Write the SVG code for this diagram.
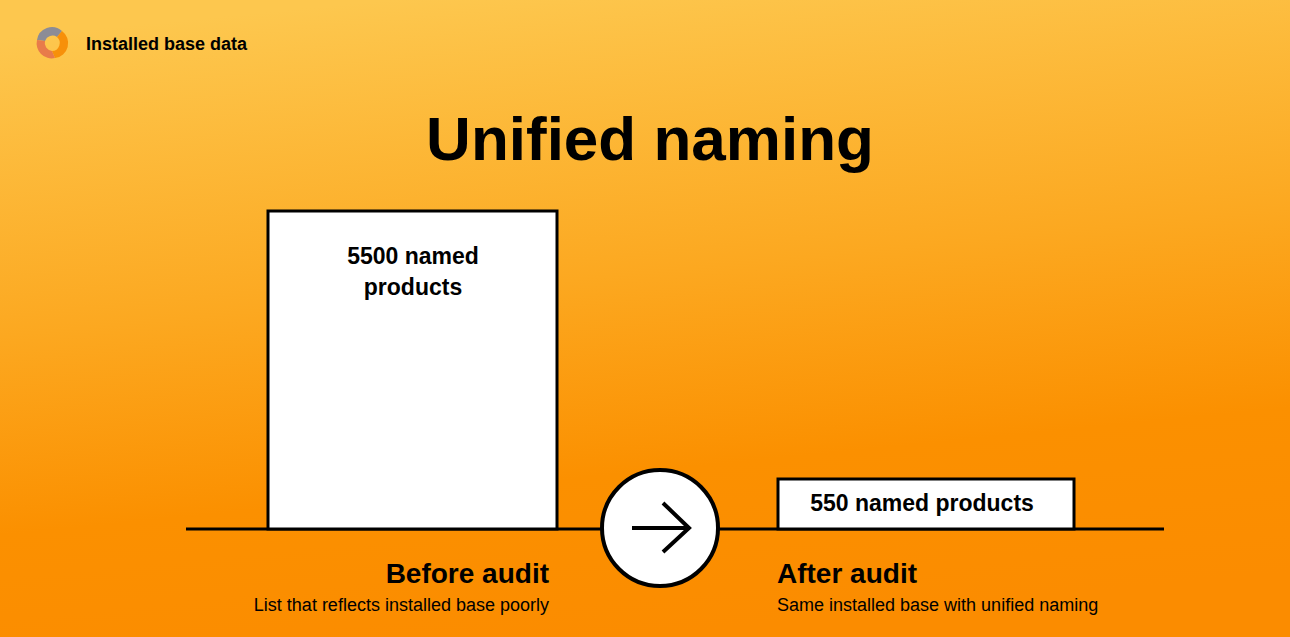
<svg xmlns="http://www.w3.org/2000/svg" width="1290" height="637" viewBox="0 0 1290 637">
<defs>
<linearGradient id="bg" x1="0.3" y1="0" x2="0.5" y2="1">
<stop offset="0" stop-color="#fdc74e"/>
<stop offset="0.45" stop-color="#fca820"/>
<stop offset="0.75" stop-color="#fb9000"/>
<stop offset="1" stop-color="#fb8c00"/>
</linearGradient>
<style>
text{font-family:"Liberation Sans",Arial,sans-serif;fill:#000}
.b{font-weight:bold}
.box{fill:#fff;stroke:#000;stroke-width:3}
</style>
</defs>
<rect width="1290" height="637" fill="url(#bg)"/>
<g id="logo">
<path d="M37 40 A15 15 0 0 1 62 31 L57 37 A8 8 0 0 0 45 41 Z" fill="#8c8c96"/>
<path d="M62 31 A15 15 0 0 1 55 58 L52 51 A8 8 0 0 0 57 37 Z" fill="#f7900a"/>
<path d="M55 58 A15 15 0 0 1 37 40 L45 41 A8 8 0 0 0 52 51 Z" fill="#e87b4a"/>
<text x="86" y="50" class="b" font-size="18">Installed base data</text>
</g>
<text x="650" y="160" class="b" font-size="62" text-anchor="middle">Unified naming</text>
<g id="connectors">
<line x1="186" y1="529" x2="602" y2="529" stroke="#000" stroke-width="3"/>
<line x1="718" y1="529" x2="1164" y2="529" stroke="#000" stroke-width="3"/>
</g>
<g id="before">
<rect class="box" x="268" y="211" width="289" height="318"/>
<text x="413" y="264" class="b" font-size="23" text-anchor="middle">5500 named</text>
<text x="413" y="295" class="b" font-size="23" text-anchor="middle">products</text>
<text x="549" y="583" class="b" font-size="28" text-anchor="end">Before audit</text>
<text x="549" y="611" font-size="18" text-anchor="end">List that reflects installed base poorly</text>
</g>
<g id="arrow">
<circle cx="660" cy="528" r="58" fill="#fff" stroke="#000" stroke-width="4"/>
<path d="M632 528 H689 M663 503 L689 528 L663 552" fill="none" stroke="#000" stroke-width="4"/>
</g>
<g id="after">
<rect class="box" x="778" y="479" width="296" height="50"/>
<text x="922" y="511" class="b" font-size="23" text-anchor="middle">550 named products</text>
<text x="777" y="583" class="b" font-size="28">After audit</text>
<text x="777" y="611" font-size="18">Same installed base with unified naming</text>
</g>
</svg>
